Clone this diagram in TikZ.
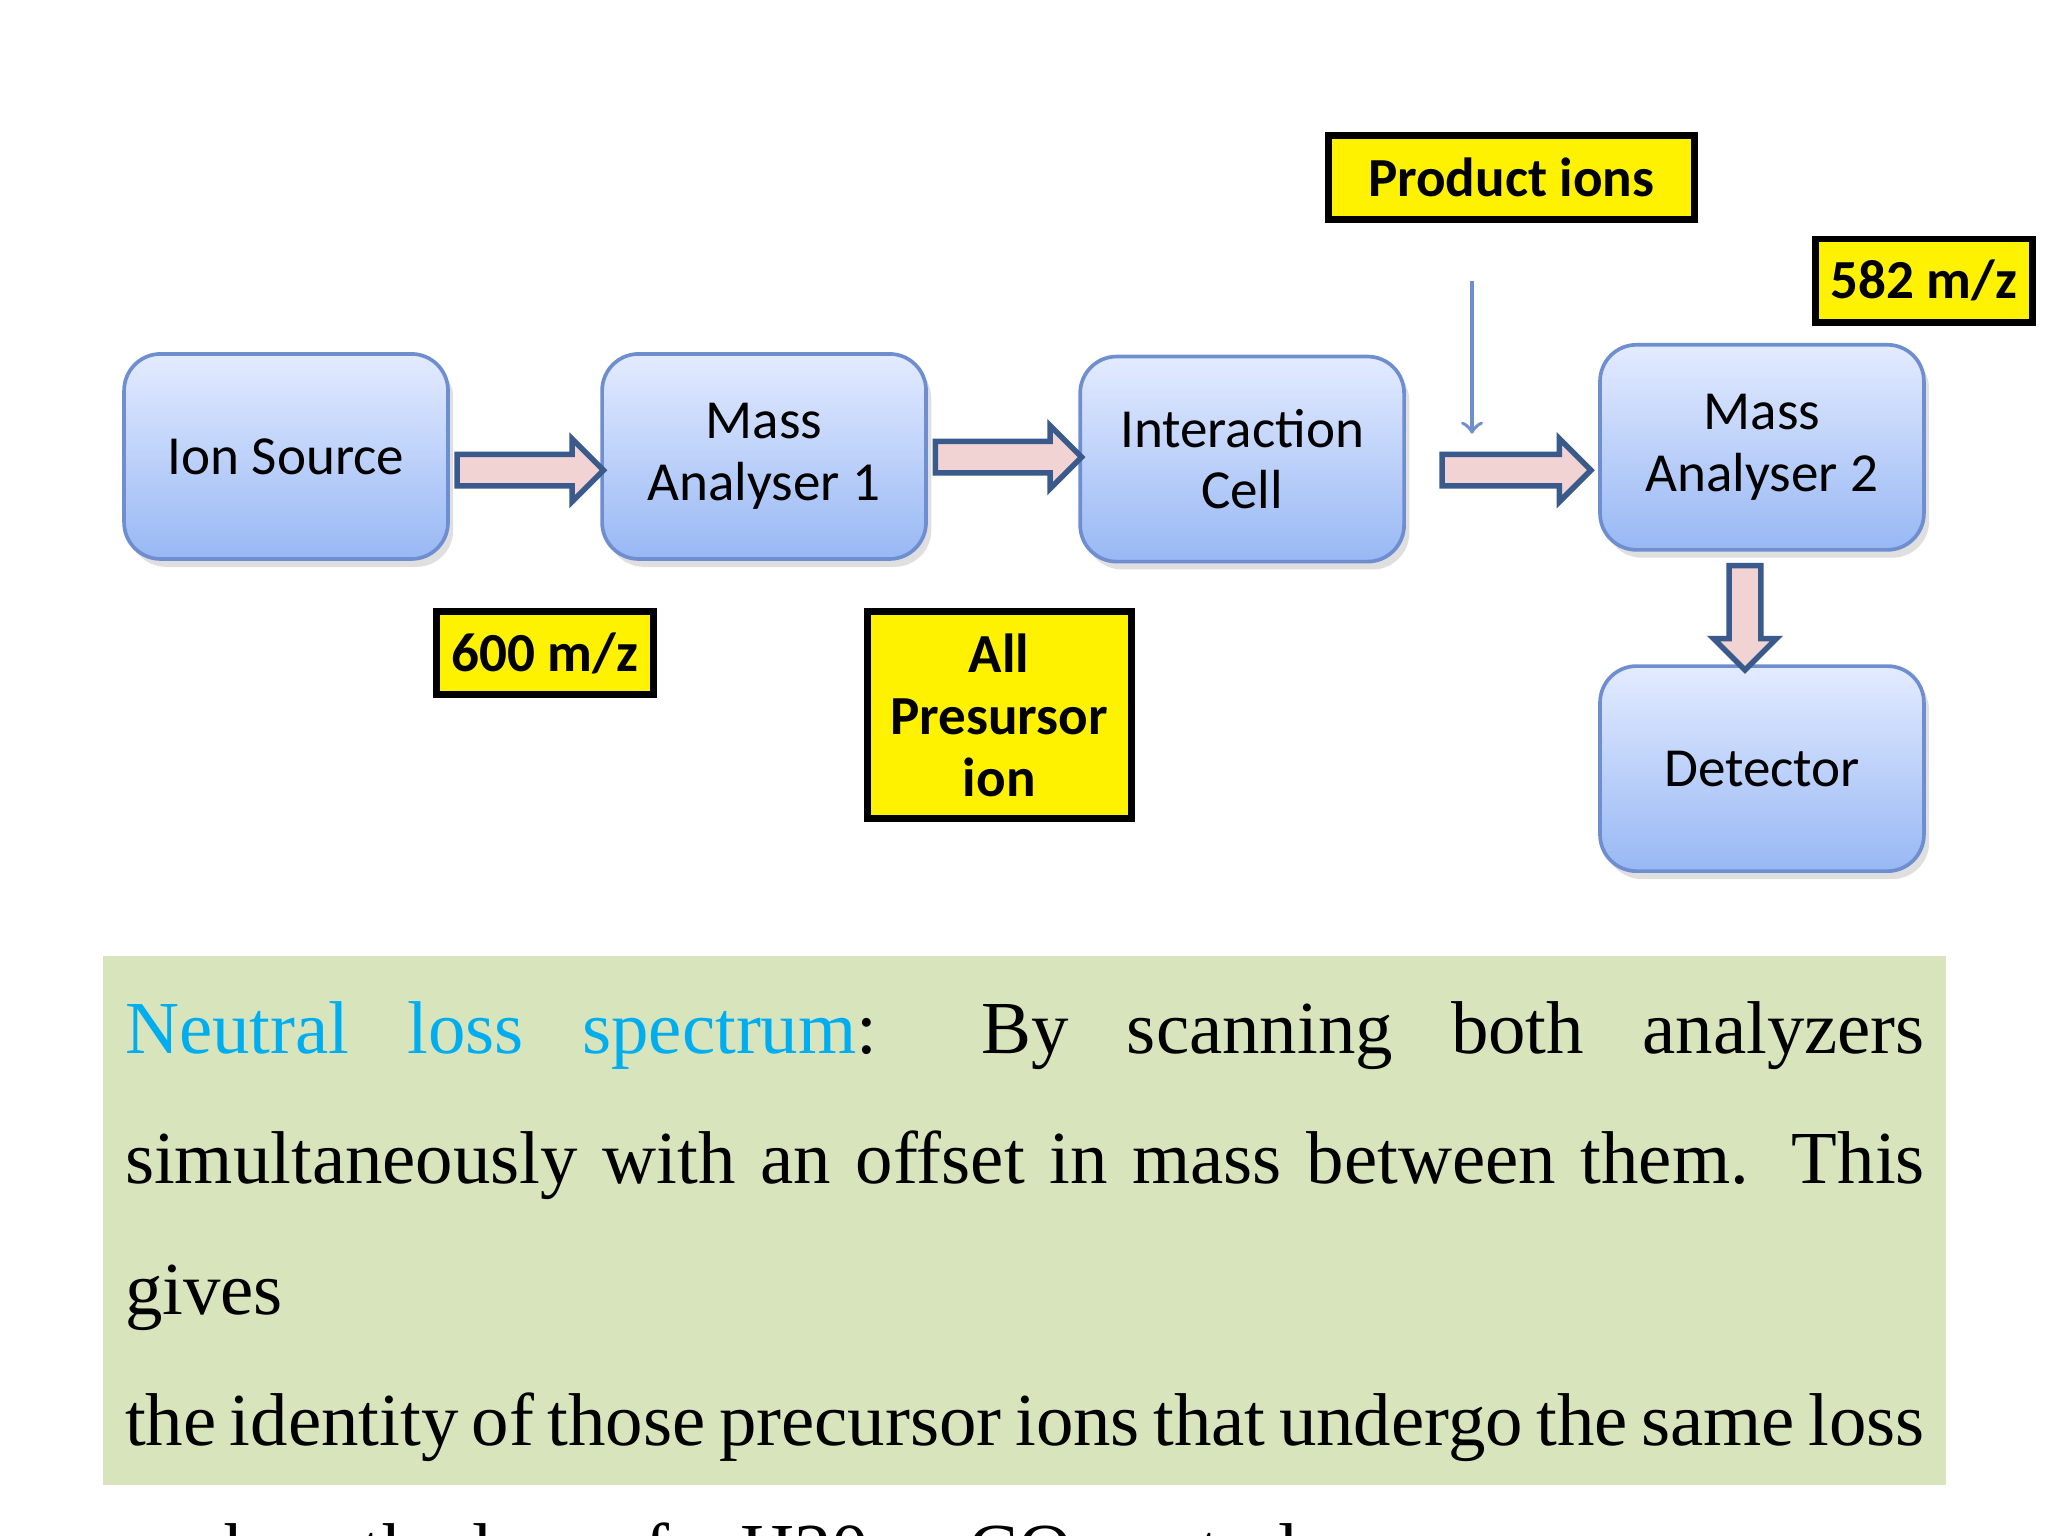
\documentclass[tikz,border=0pt]{standalone}
\usepackage{fontspec}
\setmainfont{Liberation Serif}
\newfontfamily\boxfont{Carlito}
\usetikzlibrary{shapes.arrows,shadows}
\definecolor{bboxtop}{HTML}{E3EBFF}
\definecolor{bboxbot}{HTML}{98B8F4}
\definecolor{bborder}{HTML}{6F8ED0}
\definecolor{arrfill}{HTML}{F2D3D3}
\definecolor{arrdraw}{HTML}{3A5A8C}
\definecolor{greenbg}{HTML}{D8E4BC}
\definecolor{cyantext}{HTML}{00AEEF}
\tikzset{
 blk/.style={rounded corners=0.28cm, draw=bborder, line width=0.8pt, top color=bboxtop, bottom color=bboxbot,
   minimum width=2.48cm, minimum height=1.57cm, align=center, font=\boxfont\fontsize{12}{13.4}\selectfont,
   drop shadow={shadow xshift=0.04cm, shadow yshift=-0.06cm, opacity=0.25}},
 fat/.style={single arrow, draw=arrdraw, fill=arrfill, line width=1.2pt, minimum height=1.12cm,
   minimum width=0.44cm, single arrow head extend=0.12cm, inner sep=0.1cm},
 lab/.style={draw=black, line width=1.5pt, fill=yellow, align=center, inner sep=0pt,
   font=\boxfont\bfseries\fontsize{12}{13.5}\selectfont},
}
\begin{document}
\begin{tikzpicture}[x=1cm,y=1cm]
\useasboundingbox (0,0) rectangle (15.68,11.76);
\fill[white] (0,0) rectangle (15.68,11.76);
\node[blk] (src) at (2.19,8.265) {Ion Source};
\node[blk] (ma1) at (5.85,8.265) {Mass\\Analyser 1};
\node[blk] (cell) at (9.51,8.245) {Interaction\\Cell};
\node[blk] (ma2) at (13.49,8.335) {Mass\\Analyser 2};
\node[blk] (det) at (13.49,5.875) {Detector};
\node[fat] (a1) at (4.00,8.16) {};
\node[fat] (a2) at (7.66,8.26) {};
\node[fat, minimum height=1.14cm] (a3) at (11.55,8.16) {};
\node[fat, rotate=-90, minimum height=0.8cm] (a4) at (13.36,7.09) {};
\coordinate (t1) at (11.27,9.61);
\coordinate (t2) at (11.27,8.44);
\draw[->, draw=bborder, line width=0.8pt] (t1) -- (t2);
\node[lab, minimum width=2.8cm, minimum height=0.64cm] (pi) at (11.57,10.40) {Product ions};
\node[lab, minimum width=1.66cm, minimum height=0.64cm] (m582) at (14.73,9.61) {582 m/z};
\node[lab, minimum width=1.66cm, minimum height=0.64cm] (m600) at (4.17,6.76) {600 m/z};
\node[lab, minimum width=2.02cm, minimum height=1.59cm] (all) at (7.65,6.285) {All\\Presursor\\ion};
\fill[greenbg] (0.79,0.39) rectangle (14.90,4.44);
\node[anchor=north west, inner sep=0pt, text width=13.78cm, align=justify,
  font=\fontsize{16.3}{28.45}\selectfont] (txt) at (0.95,4.1)
 {\hyphenpenalty=10000\exhyphenpenalty=10000\textcolor{cyantext}{Neutral loss spectrum}: By scanning both analyzers\linebreak simultaneously with an offset in mass between them. This gives\linebreak the identity of those precursor ions that undergo the same loss\linebreak such as the loss of a H20 or CO neutral.};
\end{tikzpicture}
\end{document}
